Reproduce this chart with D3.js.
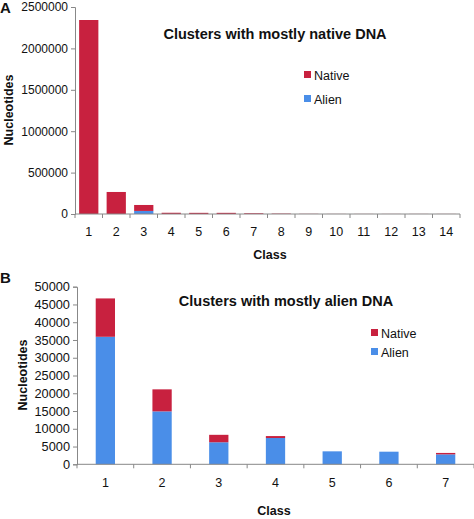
<!DOCTYPE html>
<html>
<head>
<meta charset="utf-8">
<script src="https://cdn.jsdelivr.net/npm/d3@7"></script>
<style>
  body { margin: 0; background: #fff; }
  text { font-family: "Liberation Sans", Arial, sans-serif; fill: #111; }
</style>
</head>
<body>
<div id="chart"></div>
<script>
// panel A: clusters with mostly native DNA
const classesA = ["1","2","3","4","5","6","7","8","9","10","11","12","13","14"];
const nativeA = [2343000, 266000, 72000, 15000, 14000, 14000, 9000, 5000, 2000, 1000, 1000, 1000, 1000, 1000];
const alienA  = [0, 0, 37000, 0, 0, 0, 0, 0, 0, 0, 0, 0, 0, 0];
const ticksA = [0, 500000, 1000000, 1500000, 2000000, 2500000];

// panel B: clusters with mostly alien DNA
const classesB = ["1","2","3","4","5","6","7"];
const nativeB = [10800, 6200, 2100, 550, 0, 0, 400];
const alienB  = [35900, 14900, 6200, 7400, 3650, 3550, 2800];
const ticksB = [0, 5000, 10000, 15000, 20000, 25000, 30000, 35000, 40000, 45000, 50000];

const colors = { Native: "#c8213f", Alien: "#4a8ee8" };

const svg = d3.select("#chart").append("svg")
  .attr("width", 474)
  .attr("height", 519);

function panel(opts) {
  const g = svg.append("g");
  const x = d3.scaleBand()
    .domain(opts.classes)
    .range([opts.left, opts.right])
    .paddingInner(opts.pad)
    .paddingOuter(opts.pad / 2);
  const y = d3.scaleLinear()
    .domain([0, opts.max])
    .range([opts.bottom, opts.top]);

  const rows = opts.classes.map((c, i) => ({ cls: c, Alien: opts.alien[i], Native: opts.native[i] }));
  const stacked = d3.stack().keys(["Alien", "Native"])(rows);

  g.selectAll(".series")
    .data(stacked)
    .join("g")
    .attr("class", "series")
    .attr("fill", d => colors[d.key])
    .selectAll("rect")
    .data(d => d)
    .join("rect")
    .attr("x", d => x(d.data.cls))
    .attr("width", x.bandwidth())
    .attr("y", d => y(d[1]))
    .attr("height", d => y(d[0]) - y(d[1]));

  // y axis
  const yAxis = d3.axisLeft(y).tickValues(opts.ticks).tickSize(4).tickFormat(d3.format("d"));
  const ya = g.append("g")
    .attr("transform", `translate(${opts.left},0)`)
    .call(yAxis);
  ya.select(".domain").attr("stroke", "#888");
  ya.selectAll(".tick line").attr("stroke", "#888");
  ya.selectAll("text").attr("font-size", opts.tickFont).attr("font-family", "Liberation Sans, Arial, sans-serif");

  // x axis with ticks between categories
  const xa = g.append("g").attr("transform", `translate(0,${opts.bottom})`);
  xa.append("line")
    .attr("x1", opts.left).attr("x2", opts.right)
    .attr("stroke", "#888");
  const step = x.step();
  const bounds = d3.range(opts.classes.length + 1).map(i => opts.left + i * step);
  xa.selectAll(".bt").data(bounds).join("line")
    .attr("class", "bt")
    .attr("x1", d => d).attr("x2", d => d)
    .attr("y1", 0).attr("y2", 4)
    .attr("stroke", "#888");
  xa.selectAll(".lbl").data(opts.classes).join("text")
    .attr("class", "lbl")
    .attr("x", d => x(d) + x.bandwidth() / 2)
    .attr("y", opts.labelDy)
    .attr("text-anchor", "middle")
    .attr("font-size", 12.5)
    .text(d => d);

  g.append("text")
    .attr("x", opts.classX).attr("y", opts.classY)
    .attr("text-anchor", "middle")
    .attr("font-weight", "bold").attr("font-size", 12.5)
    .text("Class");

  g.append("text")
    .attr("transform", `translate(${opts.nucX},${opts.nucY}) rotate(-90)`)
    .attr("text-anchor", "middle")
    .attr("font-weight", "bold").attr("font-size", 12.5)
    .text("Nucleotides");

  g.append("text")
    .attr("x", opts.titleX).attr("y", opts.titleY)
    .attr("text-anchor", "middle")
    .attr("font-weight", "bold").attr("font-size", 14.5)
    .text(opts.title);

  g.append("text")
    .attr("x", opts.letterX).attr("y", opts.letterY)
    .attr("font-weight", "bold").attr("font-size", 15)
    .text(opts.letter);

  const leg = g.selectAll(".leg").data(["Native", "Alien"]).join("g")
    .attr("class", "leg")
    .attr("transform", (d, i) => `translate(${opts.legX},${opts.legY + i * opts.legGap})`);
  leg.append("rect")
    .attr("x", 0).attr("y", -4).attr("width", 7).attr("height", 7)
    .attr("fill", d => colors[d]);
  leg.append("text")
    .attr("x", 10).attr("y", 4.5)
    .attr("font-size", 12.5)
    .text(d => d);
}

panel({
  classes: classesA, native: nativeA, alien: alienA, ticks: ticksA, max: 2500000,
  left: 75, right: 460, top: 7, bottom: 214, pad: 0.3, tickFont: 12,
  labelDy: 22, classX: 270, classY: 259, nucX: 13, nucY: 110,
  title: "Clusters with mostly native DNA", titleX: 275, titleY: 39,
  letter: "A", letterX: 0, letterY: 13,
  legX: 304, legY: 75, legGap: 24
});

panel({
  classes: classesB, native: nativeB, alien: alienB, ticks: ticksB, max: 50000,
  left: 77, right: 474, top: 286.7, bottom: 464.3, pad: 0.66, tickFont: 12.8,
  labelDy: 23, classX: 274, classY: 515, nucX: 27, nucY: 375,
  title: "Clusters with mostly alien DNA", titleX: 286, titleY: 306,
  letter: "B", letterX: 0, letterY: 283,
  legX: 371, legY: 333, legGap: 19
});
</script>
</body>
</html>
